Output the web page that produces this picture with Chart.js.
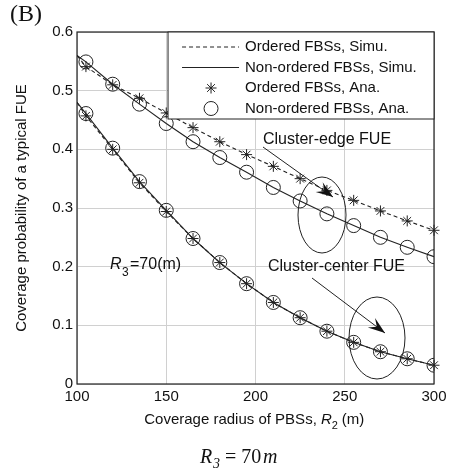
<!DOCTYPE html>
<html><head><meta charset="utf-8">
<script src="https://cdn.jsdelivr.net/npm/chart.js@4.4.0/dist/chart.umd.min.js"></script>
<style>html,body{margin:0;padding:0;background:#fff}#w{width:474px;height:474px}</style>
</head><body><div id="w"><canvas id="c"></canvas></div>
<script>
const xMarks = [105,120,135,150,165,180,195,210,225,240,255,270,285,300];
const edgeOrdered = [0.541,0.510,0.487,0.462,0.437,0.413,0.391,0.371,0.350,0.330,0.313,0.295,0.278,0.262];
const edgeNonOrdered = [0.549,0.511,0.477,0.444,0.413,0.386,0.361,0.335,0.312,0.290,0.270,0.250,0.233,0.217];
const centerOrdered = [0.457,0.400,0.343,0.294,0.248,0.207,0.171,0.139,0.113,0.090,0.071,0.055,0.043,0.032];
const centerNonOrdered = [0.461,0.402,0.345,0.296,0.248,0.207,0.171,0.139,0.113,0.090,0.071,0.055,0.043,0.032];
const lineStartX = 100;
const edgeStart = 0.560, centerStart = 0.480;
const yTicks = [0,0.1,0.2,0.3,0.4,0.5,0.6];
const xTicks = [100,150,200,250,300];

const pts = (xs, ys) => xs.map((x,i)=>({x, y:ys[i]}));
const linePts = (s, ys) => [{x:lineStartX,y:s}].concat(pts(xMarks, ys));
const F = '"Liberation Sans", Arial, sans-serif';

const lineDs = (data, dash) => ({type:'line', data, borderColor:'#222', borderWidth:1.1, borderDash:dash, pointRadius:0, fill:false, tension:0});
const markDs = (data, style) => ({type:'line', data, showLine:false, pointStyle:style, pointRadius: style==='circle'?7:5.5, pointBorderColor:'#222', pointBackgroundColor: 'rgba(0,0,0,0)', pointBorderWidth:1});

function star(ctx,x,y,r){
  ctx.beginPath();
  for(let k=0;k<4;k++){const a=k*Math.PI/4;ctx.moveTo(x-r*Math.cos(a),y-r*Math.sin(a));ctx.lineTo(x+r*Math.cos(a),y+r*Math.sin(a));}
  ctx.stroke();
}
function arrow(ctx,x1,y1,x2,y2){
  ctx.beginPath();ctx.moveTo(x1,y1);ctx.lineTo(x2,y2);ctx.stroke();
  const a=Math.atan2(y2-y1,x2-x1),L=17,W=6;
  ctx.beginPath();ctx.moveTo(x2,y2);
  ctx.lineTo(x2-L*Math.cos(a)+W*Math.sin(a), y2-L*Math.sin(a)-W*Math.cos(a));
  ctx.lineTo(x2-0.6*L*Math.cos(a), y2-0.6*L*Math.sin(a));
  ctx.lineTo(x2-L*Math.cos(a)-W*Math.sin(a), y2-L*Math.sin(a)+W*Math.cos(a));
  ctx.closePath();ctx.fill();
}

const deco = {
  id:'deco',
  afterDraw(chart){
    const ctx=chart.ctx, a=chart.chartArea, xs=chart.scales.x, ys=chart.scales.y;
    ctx.save();
    ctx.strokeStyle='#222';ctx.fillStyle='#111';ctx.lineWidth=1.2;
    ctx.strokeRect(a.left,a.top,a.right-a.left,a.bottom-a.top);
    ctx.lineWidth=1;
    centerOrdered.forEach((v,i)=>star(ctx,xs.getPixelForValue(xMarks[i]),ys.getPixelForValue(v),5.5));
    edgeOrdered.forEach((v,i)=>star(ctx,xs.getPixelForValue(xMarks[i]),ys.getPixelForValue(v),5.5));
    // legend
    const lx=xs.getPixelForValue(151), ly=a.top, lw=a.right-lx, lh=87;
    ctx.fillStyle='#fff';ctx.fillRect(lx,ly,lw,lh);
    ctx.lineWidth=1;ctx.strokeRect(lx,ly,lw,lh);
    ctx.fillStyle='#111';ctx.font='15px '+F;ctx.textBaseline='middle';ctx.textAlign='left';
    const rows=[['dash','Ordered FBSs, Simu.'],['solid','Non-ordered FBSs, Simu.'],['star','Ordered FBSs, Ana.'],['circ','Non-ordered FBSs, Ana.']];
    rows.forEach((r,i)=>{
      const y=ly+15+i*20.5;
      if(r[0]==='dash'||r[0]==='solid'){ctx.setLineDash(r[0]==='dash'?[4,3]:[]);ctx.beginPath();ctx.moveTo(lx+14,y);ctx.lineTo(lx+71,y);ctx.stroke();ctx.setLineDash([]);}
      else if(r[0]==='star') star(ctx,lx+43,y,5.5);
      else {ctx.beginPath();ctx.arc(lx+43,y,7,0,2*Math.PI);ctx.stroke();}
      ctx.fillText(r[1],lx+77,y);
    });
    ctx.font='16px '+F;
    ctx.fillText('Cluster-edge FUE',263,140);
    ctx.fillText('Cluster-center FUE',268,267);
    ctx.lineWidth=1;
    arrow(ctx,263,147,333,197);
    arrow(ctx,312,278,385,333);
    ctx.beginPath();ctx.ellipse(322,215,24,38,0,0,2*Math.PI);ctx.stroke();
    ctx.beginPath();ctx.ellipse(377,338,28,41,0,0,2*Math.PI);ctx.stroke();
    ctx.font='italic 16px '+F;ctx.fillText('R',110,265);
    ctx.font='12px '+F;ctx.fillText('3',122,273);
    ctx.font='16px '+F;ctx.fillText('=70(m)',130,265);
    ctx.font='15px '+F;ctx.textAlign='center';
    ctx.save();ctx.translate(22,(a.top+a.bottom)/2);ctx.rotate(-Math.PI/2);
    ctx.fillText('Coverage probability of a typical FUE',0,0);ctx.restore();
    ctx.textAlign='left';
    const t1='Coverage radius of PBSs, ';ctx.font='15px '+F;
    const w1=ctx.measureText(t1).width;
    ctx.font='italic 15px '+F;const w2=ctx.measureText('R').width;
    ctx.font='15px '+F;const w3=ctx.measureText('2 (m)').width;
    let sx=(a.left+a.right)/2-(w1+w2+w3)/2;
    ctx.fillText(t1,sx,420);sx+=w1;
    ctx.font='italic 15px '+F;ctx.fillText('R',sx,420);sx+=w2;
    ctx.font='11px '+F;ctx.fillText('2',sx,426);sx+=8;
    ctx.font='15px '+F;ctx.fillText('(m)',sx+2,420);
    ctx.font='italic 20px "Liberation Serif", serif';ctx.fillText('R',200,458);
    ctx.font='italic 14px "Liberation Serif", serif';ctx.fillText('3',213,464);
    ctx.font='20px "Liberation Serif", serif';ctx.fillText('= 70',225,458);
    ctx.font='italic 20px "Liberation Serif", serif';ctx.fillText('m',263,458);
    ctx.font='24px "Liberation Serif", serif';ctx.fillText('(B)',10,15);
    ctx.restore();
  }
};

new Chart(document.getElementById('c'),{
  data:{datasets:[
    lineDs(linePts(edgeStart,edgeOrdered),[4,3]),
    lineDs(linePts(edgeStart,edgeNonOrdered),[]),
    lineDs(linePts(centerStart,centerOrdered),[4,3]),
    lineDs(linePts(centerStart,centerNonOrdered),[]),
    markDs(pts(xMarks,edgeNonOrdered),'circle'),
    markDs(pts(xMarks,centerNonOrdered),'circle')
  ]},
  options:{
    responsive:true, maintainAspectRatio:false, animation:false,
    layout:{padding:{left:0,right:40,top:32,bottom:0}},
    plugins:{legend:{display:false},tooltip:{enabled:false}},
    scales:{
      x:{type:'linear',min:100,max:300,
        afterBuildTicks:s=>{s.ticks=xTicks.map(v=>({value:v}));},
        afterFit:s=>{s.height=90;},
        grid:{color:'#d0d0d0',drawTicks:false},border:{display:false},
        ticks:{color:'#111',font:{size:15,family:F},padding:4}},
      y:{min:0,max:0.6,
        afterBuildTicks:s=>{s.ticks=yTicks.map(v=>({value:v}));},
        afterFit:s=>{s.width=77;},
        grid:{color:'#d0d0d0',drawTicks:false},border:{display:false},
        ticks:{color:'#111',font:{size:15,family:F},padding:4,callback:v=>String(+v.toFixed(1))}}
    }
  },
  plugins:[deco]
});
</script></body></html>
